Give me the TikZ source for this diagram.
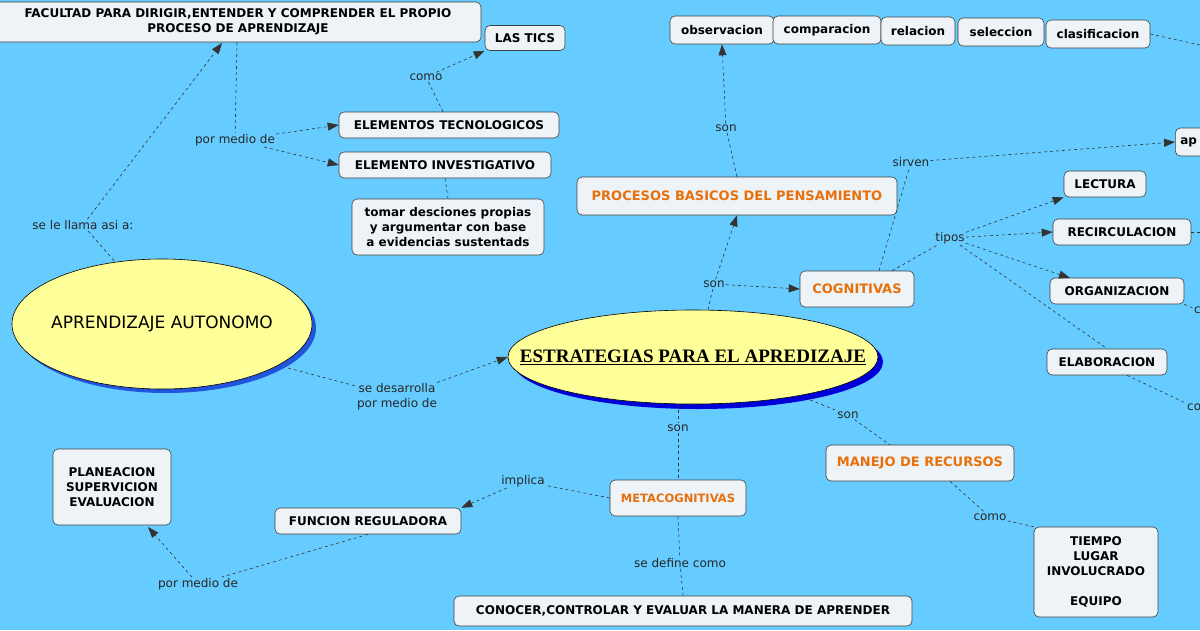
\documentclass[tikz,border=0pt]{standalone}
\usepackage{fontspec}
\setmainfont{DejaVu Sans}
\newfontfamily\serifb{Liberation Serif}
\usetikzlibrary{arrows.meta,shapes.geometric}
\definecolor{bgc}{HTML}{66CCFF}
\definecolor{boxc}{HTML}{EEF3F7}
\definecolor{orc}{HTML}{E8700A}
\definecolor{ellc}{HTML}{FFFF99}
\definecolor{shc}{HTML}{2255DD}
\tikzset{
 x=1pt,y=-1pt,
 cbox/.style={draw=black!75,fill=boxc,rounded corners=5pt,font=\fontsize{12}{15}\selectfont\bfseries,align=center,inner sep=3pt,line width=0.6pt},
 obox/.style={cbox,text=orc,font=\fontsize{13}{15}\selectfont\bfseries},
 lab/.style={font=\fontsize{12}{15}\selectfont,text=black!85,align=center,inner sep=1pt},
 con/.style={dashed,line width=0.6pt,black!80},
 arr/.style={con,-{Triangle[length=11pt,width=8pt]}},
 ell/.style={ellipse,draw=black,fill=ellc,line width=0.6pt,inner sep=0pt},
}
\begin{document}
\begin{tikzpicture}
\fill[bgc] (0,0) rectangle (1200,630);
\useasboundingbox (0,0) rectangle (1200,630);
% ellipses
\fill[shc] (166,328) ellipse (150 and 65);
\node[ell,minimum width=300,minimum height=130] (aa) at (162,324) {};
\node[font=\fontsize{17}{19}\selectfont] (aat) at (162,324) {APRENDIZAJE AUTONOMO};
\fill[blue!85!black] (698,362) ellipse (185 and 47);
\node[ell,minimum width=370,minimum height=94] (ea) at (693,357) {};
\node[font=\serifb\fontsize{19}{21}\selectfont\bfseries] (eat) at (693,357) {\underline{ESTRATEGIAS PARA EL APREDIZAJE}};
% boxes
\node[cbox,minimum width=486,minimum height=40] (fac) at (238,22) {FACULTAD PARA DIRIGIR,ENTENDER Y COMPRENDER EL PROPIO\\PROCESO DE APRENDIZAJE};
\node[cbox,minimum width=80,minimum height=25] (tics) at (525,38) {LAS TICS};
\node[cbox,minimum width=220,minimum height=26] (et) at (449,125) {ELEMENTOS TECNOLOGICOS};
\node[cbox,minimum width=212,minimum height=26] (ei) at (445,165) {ELEMENTO INVESTIGATIVO};
\node[cbox,minimum width=192,minimum height=56] (tom) at (448,227) {tomar desciones propias\\y argumentar con base\\a evidencias sustentads};
\node[obox,minimum width=320,minimum height=38] (pb) at (737,196) {PROCESOS BASICOS DEL PENSAMIENTO};
\node[cbox,minimum width=104,minimum height=28] (obs) at (722,30) {observacion};
\node[cbox,minimum width=108,minimum height=28] (com) at (827,30) {comparacion};
\node[cbox,minimum width=74,minimum height=28] (rel) at (918,31) {relacion};
\node[cbox,minimum width=86,minimum height=28] (sel) at (1001,32) {seleccion};
\node[cbox,minimum width=104,minimum height=28] (cla) at (1098,34) {clasificacion};
\node[cbox,minimum width=60,minimum height=28,anchor=west,text width=50,align=left] (ap) at (1175,142) {ap};
\node[obox,minimum width=114,minimum height=36] (cog) at (857,289) {COGNITIVAS};
\node[cbox,minimum width=82,minimum height=26] (lec) at (1105,184) {LECTURA};
\node[cbox,minimum width=138,minimum height=26] (rec) at (1122,232) {RECIRCULACION};
\node[cbox,minimum width=134,minimum height=26] (org) at (1117,291) {ORGANIZACION};
\node[cbox,minimum width=120,minimum height=26] (ela) at (1107,362) {ELABORACION};
\node[obox,minimum width=188,minimum height=36] (man) at (920,463) {MANEJO DE RECURSOS};
\node[cbox,minimum width=124,minimum height=90] (tie) at (1096,572) {TIEMPO\\LUGAR\\INVOLUCRADO\\[15pt]EQUIPO};
\node[obox,minimum width=136,minimum height=36,font=\fontsize{11.5}{13}\selectfont\bfseries] (met) at (678,498) {METACOGNITIVAS};
\node[cbox,minimum width=186,minimum height=26] (fun) at (368,521) {FUNCION REGULADORA};
\node[cbox,minimum width=118,minimum height=76] (pla) at (112,487) {PLANEACION\\SUPERVICION\\EVALUACION};
\node[cbox,minimum width=458,minimum height=30] (con) at (683,611) {CONOCER,CONTROLAR Y EVALUAR LA MANERA DE APRENDER};
% labels
\node[lab] (lcomo) at (426,77) {como};
\node[lab] (lpor) at (235,140) {por medio de};
\node[lab] (lsel) at (83,225) {se le llama asi a:};
\node[lab] (ldes) at (397,397) {se desarrolla\\por medio de};
\node[lab] (lson1) at (714,284) {son};
\node[lab] (lson2) at (726,128) {son};
\node[lab] (lsir) at (911,162) {sirven};
\node[lab] (ltip) at (950,238) {tipos};
\node[lab] (lson3) at (848,415) {son};
\node[lab] (lcomo2) at (990,517) {como};
\node[lab] (lson4) at (678,428) {son};
\node[lab] (limp) at (523,481) {implica};
\node[lab] (lpor2) at (198,584) {por medio de};
\node[lab] (ldef) at (680,563) {se define como};
\coordinate (e1) at (1200,45);
\coordinate (e2) at (1200,232);
\node[lab,anchor=west] (lc1) at (1193,310) {c};
\node[lab,anchor=west] (lc2) at (1186,407) {co};
% connectors
\draw[con] (aa.north) ++(-48,2) coordinate (aan) -- (lsel);
\draw[arr] (lsel) -- (222,43);
\draw[con] (237,42) -- (lpor);
\draw[arr] (lpor) -- (et.west);
\draw[arr] (lpor) -- (ei.west);
\draw[con] (et.north) ++(-6,0) -- (lcomo);
\draw[arr] (lcomo) -- (tics.south west);
\draw[con] (ei.south) -- (tom.north);
\draw[con] (288,368) -- (ldes);
\draw[arr] (ldes) -- (ea.west);
\draw[con] (ea.north) ++(15,0) -- (lson1);
\draw[arr] (lson1) -- (pb.south);
\draw[arr] (lson1) -- (cog.west);
\draw[con] (pb.north) -- (lson2);
\draw[arr] (lson2) -- (obs.south);
\draw[con] (cla.east) -- (e1);
\draw[con] (cog.north) ++(22,0) -- (lsir);
\draw[arr] (lsir) -- (ap.west);
\draw[con] (cog.north) ++(35,0) -- (ltip);
\draw[arr] (ltip) -- (lec.south west);
\draw[arr] (ltip) -- (rec.west);
\draw[arr] (ltip) -- (1070,278);
\draw[con] (ltip) -- (ela.north);
\draw[con] (rec.east) -- (e2);
\draw[con] (org.south east) -- (lc1);
\draw[con] (ela.south) ++(20,0) -- (lc2);
\draw[con] (810,400) -- (lson3);
\draw[con] (lson3) -- (890,445);
\draw[con] (man.south) ++(30,0) -- (lcomo2);
\draw[con] (lcomo2) -- (tie.north west);
\draw[con] (ea.south) ++(-15,0) -- (lson4);
\draw[con] (lson4) -- (met.north);
\draw[con] (met.west) -- (limp);
\draw[arr] (limp) -- (fun.north east);
\draw[con] (fun.south) -- (lpor2);
\draw[arr] (lpor2) -- (148,527);
\draw[con] (met.south) -- (ldef);
\draw[con] (ldef) -- (con.north);
\end{tikzpicture}
\end{document}
